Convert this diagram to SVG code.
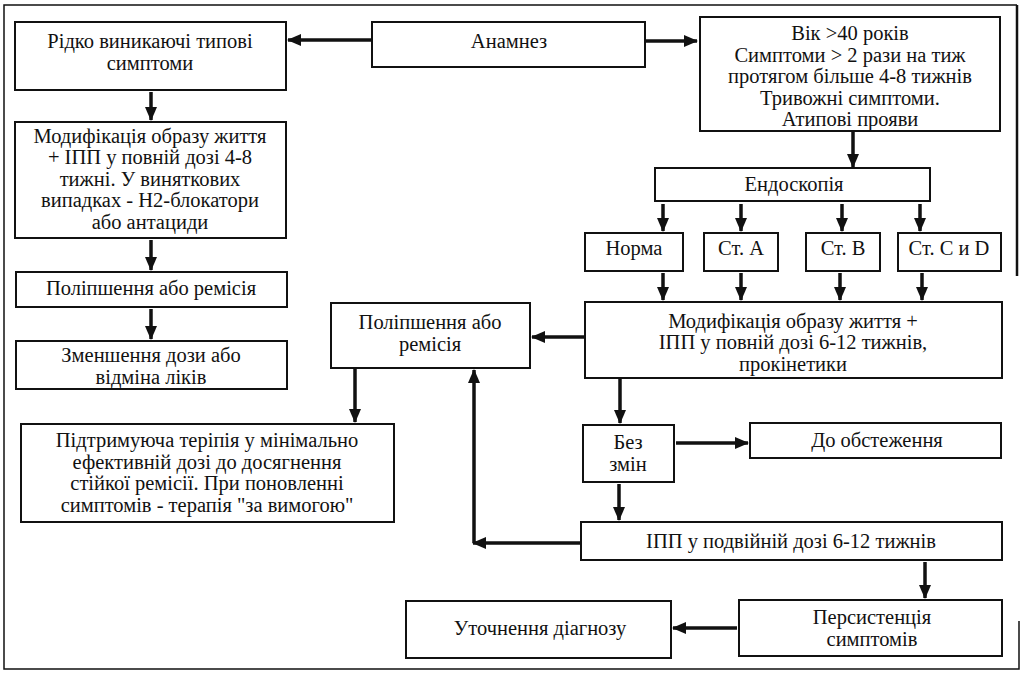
<svg xmlns="http://www.w3.org/2000/svg" width="1021" height="675" viewBox="0 0 1021 675">
<style>
.box{fill:#fff;stroke:#111;stroke-width:2}
.t{font-family:'Liberation Serif','DejaVu Serif',serif;font-size:20.5px;fill:#111;text-anchor:middle;dominant-baseline:central}
.c{fill:none;stroke:#111;stroke-width:3.5}
.frame{fill:none;stroke:#111;stroke-width:1.5}
</style>
<defs>
<marker id="ah" markerUnits="userSpaceOnUse" markerWidth="14" markerHeight="12" refX="13" refY="6" orient="auto">
<path d="M0,0 L14,6 L0,12 Z" fill="#111"/>
</marker>
</defs>
<rect width="1021" height="675" fill="#fff"/>
<g id="frame">
<path class="frame" d="M1017,5 H4 V669 H1019 V621"/>
<path class="frame" style="stroke-width:2.5" d="M1017,5 V276"/>
</g>

<g id="n-ridko"><rect class="box" x="15" y="22" width="271" height="68"/>
<text class="t" x="150" y="41.25">Рідко виникаючі типові</text><text class="t" x="150" y="62.75">симптоми</text></g>

<g id="n-anamnez"><rect class="box" x="372" y="22" width="273" height="45"/>
<text class="t" x="509" y="41">Анамнез</text></g>

<g id="n-vik"><rect class="box" x="700" y="17" width="300" height="114"/>
<text class="t" x="850" y="33">Вік &gt;40 років</text>
<text class="t" x="850" y="54.5">Симптоми &gt; 2 рази на тиж</text>
<text class="t" x="850" y="76">протягом більше 4-8 тижнів</text>
<text class="t" x="850" y="97.5">Тривожні симптоми.</text>
<text class="t" x="850" y="119">Атипові прояви</text></g>

<g id="n-endo"><rect class="box" x="655" y="168" width="275" height="33"/>
<text class="t" x="794" y="184">Ендоскопія</text></g>

<g id="n-norma"><rect class="box" x="585" y="233" width="98" height="38"/><text class="t" x="634" y="248">Норма</text></g>
<g id="n-sta"><rect class="box" x="704" y="233" width="74" height="38"/><text class="t" x="741" y="248">Ст. А</text></g>
<g id="n-stb"><rect class="box" x="806" y="233" width="74" height="38"/><text class="t" x="843" y="248">Ст. В</text></g>
<g id="n-stcd"><rect class="box" x="898" y="233" width="103" height="38"/><text class="t" x="949" y="248">Ст. С и D</text></g>

<g id="n-mod-r"><rect class="box" x="585" y="302" width="417" height="76"/>
<text class="t" x="793" y="320.5">Модифікація образу життя +</text>
<text class="t" x="793" y="342">ІПП у повній дозі 6-12 тижнів,</text>
<text class="t" x="793" y="363.5">прокінетики</text></g>

<g id="n-polip-r"><rect class="box" x="331" y="303" width="199" height="65"/>
<text class="t" x="430" y="322.25">Поліпшення або</text>
<text class="t" x="430" y="343.75">ремісія</text></g>

<g id="n-pidtr"><rect class="box" x="21" y="424" width="373" height="98"/>
<text class="t" x="207" y="440.25">Підтримуюча теріпія у мінімально</text>
<text class="t" x="207" y="461.75">ефективній дозі до досягнення</text>
<text class="t" x="207" y="483.25">стійкої ремісії. При поновленні</text>
<text class="t" x="207" y="504.75">симптомів - терапія "за вимогою"</text></g>

<g id="n-mod-l"><rect class="box" x="15" y="122" width="271" height="116"/>
<text class="t" x="150" y="135.5">Модифікація образу життя</text>
<text class="t" x="150" y="157">+ ІПП у повній дозі 4-8</text>
<text class="t" x="150" y="178.5">тижні. У виняткових</text>
<text class="t" x="150" y="200">випадках - Н2-блокатори</text>
<text class="t" x="150" y="221.5">або антациди</text></g>

<g id="n-polip-l"><rect class="box" x="16" y="272" width="271" height="35"/>
<text class="t" x="151" y="288">Поліпшення або ремісія</text></g>

<g id="n-zmen"><rect class="box" x="16" y="341" width="271" height="48"/>
<text class="t" x="151" y="355.25">Зменшення дози або</text>
<text class="t" x="151" y="376.75">відміна ліків</text></g>

<g id="n-bez"><rect class="box" x="583" y="425" width="91" height="57"/>
<text class="t" x="628" y="442.25">Без</text>
<text class="t" x="628" y="463.75">змін</text></g>

<g id="n-do"><rect class="box" x="750" y="423" width="251" height="35"/>
<text class="t" x="877" y="440">До обстеження</text></g>

<g id="n-ipp2"><rect class="box" x="581" y="522" width="421" height="38"/>
<text class="t" x="791" y="541">ІПП у подвійній дозі 6-12 тижнів</text></g>

<g id="n-pers"><rect class="box" x="739" y="600" width="263" height="56"/>
<text class="t" x="872" y="617.25">Персистенція</text>
<text class="t" x="872" y="638.75">симптомів</text></g>

<g id="n-utoch"><rect class="box" x="406" y="601" width="265" height="57"/>
<text class="t" x="540" y="628">Уточнення діагнозу</text></g>

<g id="connectors">
<path class="c" marker-end="url(#ah)" d="M372,40 H288"/>
<path class="c" marker-end="url(#ah)" d="M645,41 H697"/>
<path class="c" marker-end="url(#ah)" d="M853,131 V167"/>
<path class="c" marker-end="url(#ah)" d="M663,204 V231"/>
<path class="c" marker-end="url(#ah)" d="M741,204 V231"/>
<path class="c" marker-end="url(#ah)" d="M842,204 V231"/>
<path class="c" marker-end="url(#ah)" d="M920,204 V231"/>
<path class="c" marker-end="url(#ah)" d="M663,273 V300"/>
<path class="c" marker-end="url(#ah)" d="M741,273 V300"/>
<path class="c" marker-end="url(#ah)" d="M840,273 V300"/>
<path class="c" marker-end="url(#ah)" d="M922,273 V300"/>
<path class="c" marker-end="url(#ah)" d="M585,337 H532"/>
<path class="c" marker-end="url(#ah)" d="M355,368 V422"/>
<path class="c" marker-end="url(#ah)" d="M151,92 V120"/>
<path class="c" marker-end="url(#ah)" d="M151,240 V270"/>
<path class="c" marker-end="url(#ah)" d="M151,309 V339"/>
<path class="c" marker-end="url(#ah)" d="M620,378 V423"/>
<path class="c" marker-end="url(#ah)" d="M676,443 H748"/>
<path class="c" marker-end="url(#ah)" d="M619,484 V520"/>
<path class="c" marker-end="url(#ah)" d="M581,543 H473"/>
<path class="c" marker-end="url(#ah)" d="M474,543 V370"/>
<path class="c" marker-end="url(#ah)" d="M925,562 V598"/>
<path class="c" marker-end="url(#ah)" d="M737,628 H673"/>
</g>
</svg>
